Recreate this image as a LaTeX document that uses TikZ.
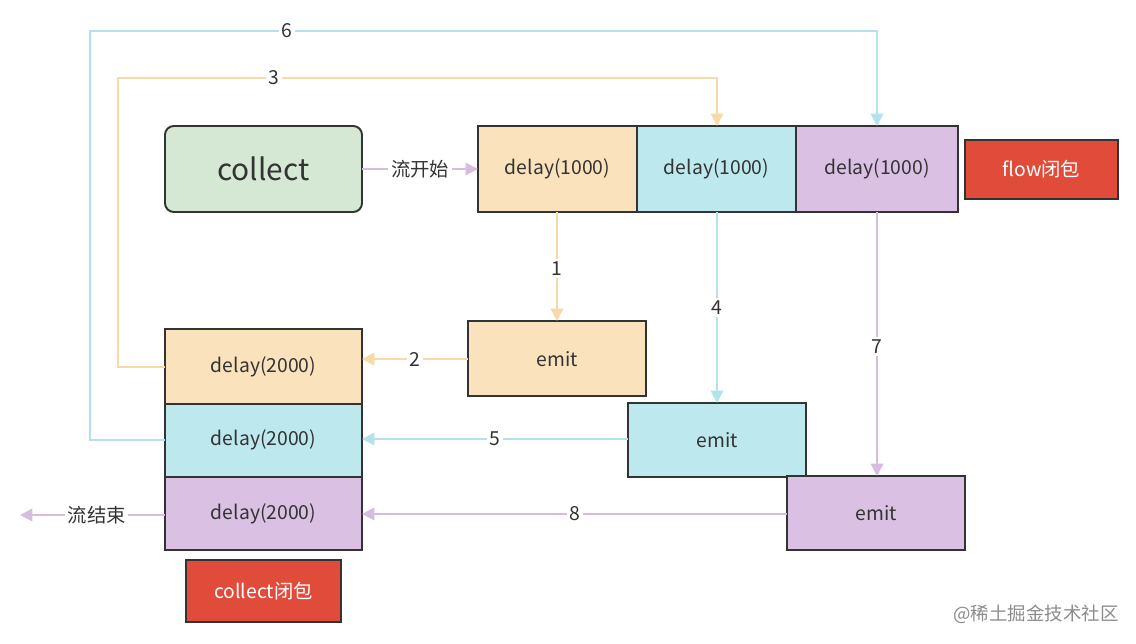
\documentclass[tikz,border=0pt]{standalone}
\usepackage{fontspec}
\setmainfont{Noto Sans CJK SC}
\usetikzlibrary{arrows.meta}
\definecolor{gr}{HTML}{D5E8D4}
\definecolor{ob}{HTML}{FAE2BC}
\definecolor{cb}{HTML}{BCE8EE}
\definecolor{pb}{HTML}{DAC1E4}
\definecolor{oa}{HTML}{F8D9A8}
\definecolor{ca}{HTML}{B3E2EC}
\definecolor{pa}{HTML}{D6BDE0}
\definecolor{rd}{HTML}{E04B3A}
\definecolor{bd}{HTML}{333333}
\begin{document}
\begin{tikzpicture}[x=0.02cm,y=-0.02cm,
 box/.style={draw=bd,line width=1.1pt},
 lab/.style={fill=white,inner sep=1.5pt,font=\fontsize{11}{13}\selectfont,text=black!80},
 ar/.style={line width=1.3pt,-{Triangle[length=7pt,width=7pt]}},
 txt/.style={font=\fontsize{11}{13}\selectfont,text=black!80}]
\useasboundingbox (0,0) rectangle (1136,644);
\fill[white] (0,0) rectangle (1136,644);
% top
\draw[box,fill=gr,rounded corners=5pt] (165,126) rectangle (362,212);
\node[font=\fontsize{17}{20}\selectfont,text=black!80] (col) at (263.5,169) {collect};
\coordinate (colr) at (362,169);
\draw[box,fill=ob] (478,126) rectangle (637,212);
\draw[box,fill=cb] (637,126) rectangle (796,212);
\draw[box,fill=pb] (796,126) rectangle (958,212);
\node[txt] (d1) at (557.5,169) {delay(1000)};
\node[txt] (d2) at (716.5,169) {delay(1000)};
\node[txt] (d3) at (877,169) {delay(1000)};
\fill[rd] (965,140) rectangle (1118,199);
\draw[bd,line width=0.6pt] (965,140) rectangle (1118,199);
\node[txt,text=white] (fb) at (1041.5,169.5) {flow闭包};
% emits
\draw[box,fill=ob] (468,321) rectangle (646,396);
\node[txt] (e1) at (557,359) {emit};
\draw[box,fill=cb] (628,403) rectangle (806,477);
\node[txt] (e2) at (717,440) {emit};
\draw[box,fill=pb] (787,476) rectangle (965,550);
\node[txt] (e3) at (876,513) {emit};
% left
\draw[box,fill=ob] (165,329) rectangle (362,404);
\draw[box,fill=cb] (165,404) rectangle (362,477);
\draw[box,fill=pb,line width=1.6pt] (165,477) rectangle (362,550);
\node[txt] (l1) at (263.5,367) {delay(2000)};
\node[txt] (l2) at (263.5,440) {delay(2000)};
\node[txt] (l3) at (263.5,514) {delay(2000)};
\fill[rd] (186,560) rectangle (341,622);
\draw[bd,line width=0.6pt] (186,560) rectangle (341,622);
\node[txt,text=white] (cb) at (263.5,591) {collect闭包};
% coordinates
\coordinate (a1s) at (557,212); \coordinate (a1e) at (557,321);
\coordinate (a2s) at (468,359); \coordinate (a2e) at (362,359);
\coordinate (a3s) at (165,367); \coordinate (a3e) at (717,126);
\coordinate (a4s) at (717,212); \coordinate (a4e) at (717,403);
\coordinate (a5s) at (628,439); \coordinate (a5e) at (362,439);
\coordinate (a6s) at (165,440); \coordinate (a6e) at (877,126);
\coordinate (a7s) at (877,212); \coordinate (a7e) at (877,476);
\coordinate (a8s) at (787,514); \coordinate (a8e) at (362,514);
\coordinate (ens) at (165,515); \coordinate (ene) at (20,515);
\coordinate (d1l) at (478,169);
% arrows
\draw[ar,pa] (colr) -- node[lab]{流开始} (d1l);
\draw[ar,oa] (a1s) -- node[lab,pos=0.52]{1} (a1e);
\draw[ar,oa] (a2s) -- node[lab]{2} (a2e);
\draw[ar,oa] (a3s) -- (118,367) -- (118,78) -- node[lab,pos=0.26]{3} (717,78) -- (a3e);
\draw[ar,ca] (a4s) -- node[lab,pos=0.5]{4} (a4e);
\draw[ar,ca] (a5s) -- node[lab,pos=0.5]{5} (a5e);
\draw[ar,ca] (a6s) -- (90,440) -- (90,31) -- node[lab,pos=0.25]{6} (877,31) -- (a6e);
\draw[ar,pa] (a7s) -- node[lab,pos=0.51]{7} (a7e);
\draw[ar,pa] (a8s) -- node[lab,pos=0.5]{8} (a8e);
\draw[ar,pa] (ens) -- node[lab,pos=0.47]{流结束} (ene);
\node[font=\fontsize{10.5}{12}\selectfont,text=black!45] (wm) at (1036,614) {@稀土掘金技术社区};
\end{tikzpicture}
\end{document}
